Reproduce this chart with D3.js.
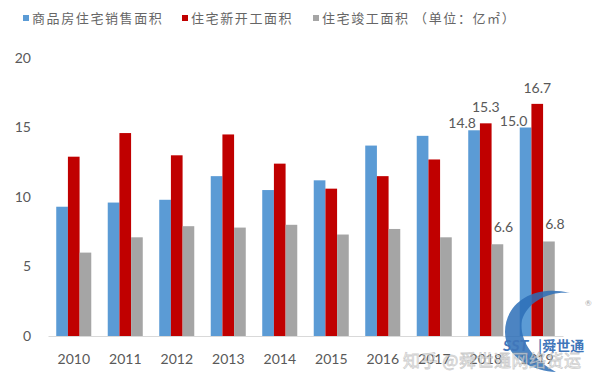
<!DOCTYPE html>
<html>
<head>
<meta charset="utf-8">
<script src="https://cdn.jsdelivr.net/npm/d3@7"></script>
<style>
    body { margin: 0; background: #fff; }
    svg { display: block; }
</style>
</head>
<body>
<svg id="chart" width="600" height="385"></svg>
<script>
"use strict";

var years = ["2010", "2011", "2012", "2013", "2014", "2015", "2016", "2017", "2018", "2019"];
var salesArea = [9.3, 9.6, 9.8, 11.5, 10.5, 11.2, 13.7, 14.4, 14.8, 15.0];
var newStartArea = [12.9, 14.6, 13.0, 14.5, 12.4, 10.6, 11.5, 12.7, 15.3, 16.7];
var completedArea = [6.0, 7.1, 7.9, 7.8, 8.0, 7.3, 7.7, 7.1, 6.6, 6.8];
var seriesNames = ["商品房住宅销售面积", "住宅新开工面积", "住宅竣工面积"];
var unitText = "（单位：亿㎡）";
var yTicks = [0, 5, 10, 15, 20];
var labelledYears = ["2018", "2019"];
var colors = ["#5b9bd5", "#c00000", "#a5a5a5"];

var svg = d3.select("#chart");
var margin = {left: 48, right: 37, top: 58, bottom: 49};
var width = 600 - margin.left - margin.right;
var height = 385 - margin.top - margin.bottom;

var g = svg.append("g")
    .attr("transform", "translate(" + margin.left + "," + margin.top + ")");

var x0 = d3.scaleBand().domain(years).range([0, width]).paddingInner(0.32).paddingOuter(0.16);
var x1 = d3.scaleBand().domain([0, 1, 2]).range([0, x0.bandwidth()]);
var y = d3.scaleLinear().domain([0, 20]).range([height, 0]);

var allSeries = [salesArea, newStartArea, completedArea];

// bars
var groups = g.selectAll(".year")
    .data(years)
    .enter().append("g")
    .attr("class", "year")
    .attr("transform", function(d) { return "translate(" + x0(d) + ",0)"; });

groups.selectAll("rect")
    .data(function(d, i) {
        return allSeries.map(function(s, k) { return {k: k, v: s[i], year: d}; });
    })
    .enter().append("rect")
    .attr("x", function(d) { return x1(d.k); })
    .attr("width", x1.bandwidth())
    .attr("y", function(d) { return y(d.v); })
    .attr("height", function(d) { return height - y(d.v); })
    .attr("fill", function(d) { return colors[d.k]; });

// x axis
var xAxis = g.append("g")
    .attr("transform", "translate(0," + height + ")")
    .call(d3.axisBottom(x0).tickSize(0).tickPadding(18));
xAxis.select(".domain").attr("stroke", "#d9d9d9").attr("stroke-width", 1.2);
xAxis.selectAll("text")
    .attr("font-family", "Lato, 'Open Sans', sans-serif")
    .attr("font-size", 14)
    .attr("fill", "#595959");

// y axis
var yAxis = g.append("g")
    .call(d3.axisLeft(y).tickValues(yTicks).tickSize(0).tickPadding(17));
yAxis.select(".domain").remove();
yAxis.selectAll("text")
    .attr("font-family", "Lato, 'Open Sans', sans-serif")
    .attr("font-size", 14)
    .attr("fill", "#595959");

// legend
var legendX = [23, 182, 313];
var legend = svg.append("g").attr("transform", "translate(0,18)");
seriesNames.forEach(function(name, k) {
    var item = legend.append("g").attr("transform", "translate(" + legendX[k] + ",0)");
    item.append("rect")
        .attr("x", 0).attr("y", -3)
        .attr("width", 6).attr("height", 6)
        .attr("fill", colors[k]);
    item.append("text")
        .attr("x", 9).attr("y", 5)
        .attr("font-family", "'Noto Sans CJK SC', sans-serif")
        .attr("font-size", 13)
        .attr("letter-spacing", 1.6)
        .attr("fill", "#666")
        .text(k == 2 ? name + " " + unitText : name);
});

// watermark
var wm = svg.append("g").attr("opacity", 0.85);
wm.append("path")
    .attr("d", "M505,332 C505,302 535,284 570,293 C548,291 528,302 522,320 C519,338 530,358 556,372 C528,370 505,355 505,332 Z")
    .attr("fill", "#2d6fb8");
wm.append("text")
    .attr("x", 503).attr("y", 351)
    .attr("font-family", "Lato, sans-serif")
    .attr("font-weight", "bold")
    .attr("font-style", "italic")
    .attr("font-size", 16)
    .attr("fill", "#1f5fae")
    .text("SST");
wm.append("text")
    .attr("x", 538).attr("y", 351)
    .attr("font-family", "'Noto Sans CJK SC', sans-serif")
    .attr("font-weight", "bold")
    .attr("font-size", 14)
    .attr("fill", "#1f5fae")
    .text("|舜世通");
wm.append("text")
    .attr("x", 585).attr("y", 306)
    .attr("font-family", "Lato, sans-serif")
    .attr("font-size", 8)
    .attr("fill", "#999")
    .text("®");
svg.append("text")
    .attr("x", 403).attr("y", 367)
    .attr("font-family", "'Noto Sans CJK SC', sans-serif")
    .attr("font-size", 17)
    .attr("letter-spacing", 0.5)
    .attr("fill", "#ffffff")
    .attr("fill-opacity", 0.6)
    .attr("stroke", "#9a9a9a")
    .attr("stroke-opacity", 0.5)
    .attr("stroke-width", 0.8)
    .text("知乎 @舜世通网络货运");

// value labels on the last two years, drawn last so they sit on top
var labelShift = [-12, 0, 6];
var labelLift = [2, 11, 12];
groups.filter(function(d) { return labelledYears.indexOf(d) >= 0; })
    .selectAll("text.val")
    .data(function(d, i) {
        var idx = years.indexOf(d);
        return allSeries.map(function(s, k) { return {k: k, v: s[idx]}; });
    })
    .enter().append("text")
    .attr("class", "val")
    .attr("x", function(d) { return x1(d.k) + x1.bandwidth() / 2 + labelShift[d.k]; })
    .attr("y", function(d) { return y(d.v) - labelLift[d.k]; })
    .attr("text-anchor", "middle")
    .attr("font-family", "Lato, 'Open Sans', sans-serif")
    .attr("font-size", 14)
    .attr("fill", "#595959")
    .text(function(d) { return d.v.toFixed(1); });
</script>
</body>
</html>
